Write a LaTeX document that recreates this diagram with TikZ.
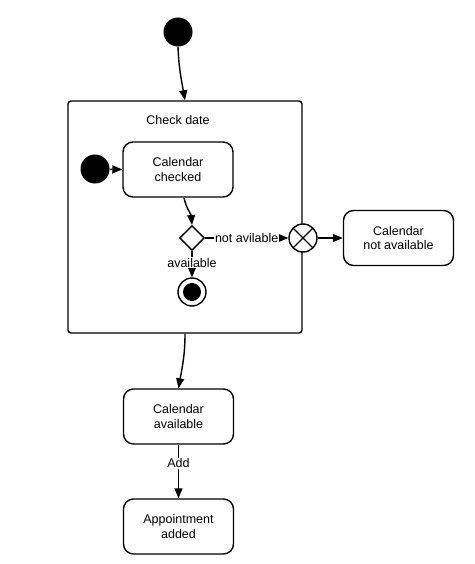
\documentclass[tikz,border=0pt]{standalone}
\usepackage{fontspec}
\setmainfont{Liberation Sans}
\usetikzlibrary{arrows.meta}
\begin{document}
\begin{tikzpicture}[x=1pt,y=-1pt,
  every node/.style={font=\fontsize{12.5}{14.5}\selectfont},
  arr/.style={line width=1.4pt,-{Triangle[length=10pt,width=8pt]}},
  statebox/.style={draw,line width=1.4pt,rounded corners=10pt,minimum width=110pt,minimum height=55pt,align=center,inner sep=2pt},
  startnode/.style={circle,fill=black,minimum size=29pt,inner sep=0pt},
  lbl/.style={fill=white,inner sep=1pt}
]
\useasboundingbox[fill=white] (0,0) rectangle (474,564);
% composite
\node[draw,line width=1.4pt,rounded corners=3pt,minimum width=234pt,minimum height=232pt,inner sep=0pt] (comp) at (185,217) {};
\node (ctitle) at (178,120) {Check date};
% nodes
\node[startnode] (s0) at (178,32) {};
\node[startnode] (s1) at (95,169) {};
\node[statebox] (cc) at (178,169.5) {Calendar\\checked};
\node[draw,line width=1.4pt,fill=white,minimum size=17pt,inner sep=0pt,rotate=45] (dec) at (192,238) {};
\node[circle,draw,line width=1.4pt,fill=white,minimum size=28pt,inner sep=0pt,
  path picture={\fill[black] (path picture bounding box.center) circle (9pt);}] (fin) at (192,292) {};
\node[circle,draw,line width=1.4pt,fill=white,minimum size=28pt,inner sep=0pt,
  path picture={\draw[line width=1.4pt] (path picture bounding box.south west) -- (path picture bounding box.north east)
     (path picture bounding box.north west) -- (path picture bounding box.south east);}] (xf) at (303,238) {};
\node[statebox] (cna) at (398.5,238) {Calendar\\not available};
\node[statebox] (cav) at (178.5,416.5) {Calendar\\available};
\node[statebox] (app) at (178.5,526.5) {Appointment\\added};
% connectors
\draw[arr] (s0.south) to[out=-88,in=100] (comp.north);
\draw[arr] (s1) -- (cc.west);
\draw[arr] ([xshift=6pt]cc.south) to[out=-78,in=95] (dec.north east);
\draw[arr] (dec.south east) -- (xf.west) node[lbl,midway] (lna) {not avilable};
\draw[arr] (dec.south west) -- (fin.north) node[lbl,pos=0.45] (lav) {available};
\draw[arr] (xf.east) -- (cna.west);
\draw[arr] (comp.south) to[out=-90,in=80] (cav.north);
\draw[arr] (cav.south) -- (app.north) node[lbl,pos=0.35] (ladd) {Add};
\end{tikzpicture}
\end{document}
